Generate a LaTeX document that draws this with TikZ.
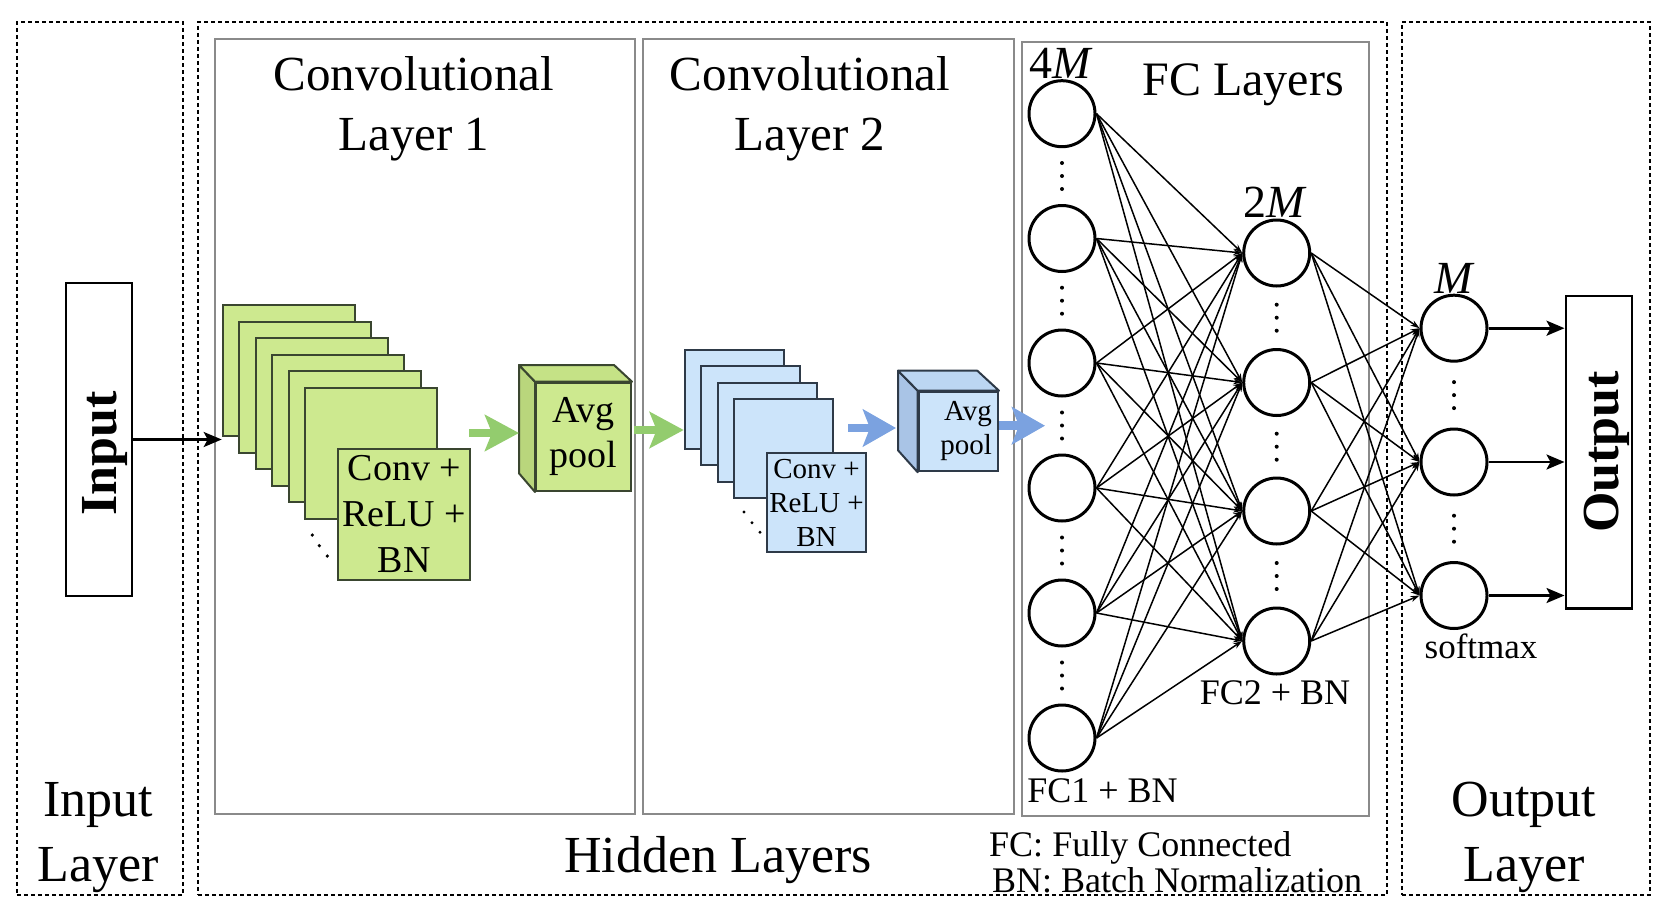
\documentclass[tikz,border=0pt]{standalone}
\usepackage{fontspec}
\setmainfont{Liberation Serif}
\usetikzlibrary{arrows.meta}
\definecolor{mapgreen}{HTML}{CDE98F}
\definecolor{sidegreen}{HTML}{B9D67C}
\definecolor{topgreen}{HTML}{C5E286}
\definecolor{edgegreen}{HTML}{3A4630}
\definecolor{arrgreen}{HTML}{93CC6E}
\definecolor{mapblue}{HTML}{CCE4FA}
\definecolor{sideblue}{HTML}{A9C4E6}
\definecolor{topblue}{HTML}{BCD6F2}
\definecolor{edgeblue}{HTML}{2E3A48}
\definecolor{arrblue}{HTML}{7BA2E0}
\definecolor{boxgray}{HTML}{8A8A8A}
\tikzset{
  layerbox/.style={draw, dash pattern=on 4pt off 3pt, line width=1.6pt, anchor=north west, inner sep=0pt},
  subbox/.style={draw=boxgray, line width=2pt, anchor=north west, inner sep=0pt},
  gmap/.style={draw=edgegreen, fill=mapgreen, line width=2pt, anchor=north west, inner sep=0pt, minimum width=132pt, minimum height=131pt},
  bmap/.style={draw=edgeblue, fill=mapblue, line width=2pt, anchor=north west, inner sep=0pt, minimum width=99pt, minimum height=99pt},
  neuron/.style={circle, draw, line width=3pt, minimum size=66pt, inner sep=0pt},
  fcline/.style={line width=1.5pt, -{Stealth[length=9pt,width=6pt]}},
  bigarrow/.style={line width=2.6pt, -{Stealth[length=18pt,width=15pt,inset=4pt]}},
  fatgreen/.style={draw=arrgreen, line width=8.5pt, -{Stealth[length=34pt,width=36pt,inset=7pt]}},
  fatblue/.style={draw=arrblue, line width=8.5pt, -{Stealth[length=33pt,width=37pt,inset=7pt]}},
  bigtxt/.style={font=\fontsize{52}{65}\selectfont, align=center},
  titletxt/.style={font=\fontsize{49}{60}\selectfont, align=center},
  dotmark/.style={fill=black},
}
\begin{document}
\begin{tikzpicture}[x=1pt,y=-1pt]
\useasboundingbox (0,0) rectangle (1677,907);
% outer layer boxes
\node[layerbox, minimum width=166pt, minimum height=873pt] (inL) at (16,21) {};
\node[layerbox, minimum width=1189pt, minimum height=873pt] (hidL) at (197,21) {};
\node[layerbox, minimum width=248pt, minimum height=873pt] (outL) at (1401,21) {};
\node[bigtxt] (inLt) at (98,838) {Input\\Layer};
\node[bigtxt] (hidLt) at (718,860) {Hidden Layers};
\node[bigtxt] (outLt) at (1524,837) {Output\\Layer};
% inner boxes
\node[subbox, minimum width=420pt, minimum height=774pt] (box1) at (214,38.5) {};
\node[subbox, minimum width=371pt, minimum height=774pt] (box2) at (642,38.5) {};
\node[subbox, minimum width=347pt, minimum height=774pt] (box3) at (1021,40.6) {};
\node[titletxt] (t1) at (414,109) {Convolutional\\Layer 1};
\node[titletxt] (t2) at (810,109) {Convolutional\\Layer 2};
% input
\node[draw, line width=2pt, minimum width=65.5pt, minimum height=313pt, inner sep=0pt] (inp) at (98.75,439.5) {};
\node[rotate=90, font=\bfseries\fontsize{52}{60}\selectfont] (inpt) at ([xshift=6pt,yshift=-14pt]inp.center) {Input};
% conv layer 1 maps
\node[gmap] (m1) at (221.7,304) {};
\node[gmap] (m2) at (238.3,320.7) {};
\node[gmap] (m3) at (255,336.7) {};
\node[gmap] (m4) at (271.3,353.7) {};
\node[gmap] (m5) at (287.7,369.7) {};
\node[gmap] (m6) at (304.3,386.7) {};
\node[gmap, align=center, font=\fontsize{38}{46}\selectfont] (c1t) at (337.3,447.7) {Conv +\\ReLU +\\BN};
\fill[dotmark] (312.3,535) circle[radius=1.8pt] (319.3,545.7) circle[radius=1.8pt] (327.3,556) circle[radius=1.8pt];
\draw[bigarrow] (inp.east) -- (inp.east -| m1.west);
% avg pool 1 cube
\node[draw=edgegreen, fill=mapgreen, line width=2pt, anchor=north west, inner sep=0pt, minimum width=95pt, minimum height=108.3pt, align=center, font=\fontsize{38}{45}\selectfont] (pool1) at (535,381.7) {Avg\\pool};
\filldraw[fill=sidegreen, draw=edgegreen, line width=2pt, line join=round] (pool1.north west) -- ++(-16,-16.7) -- ++(0,108.3) -- (pool1.south west) -- cycle;
\filldraw[fill=topgreen, draw=edgegreen, line width=2pt, line join=round] (pool1.north west) -- ++(-16,-16.7) -- ++(95,0) -- (pool1.north east) -- cycle;
\coordinate (g1s) at (469.3,433);
\coordinate (g1e) at (519,433);
\draw[fatgreen] (g1s) -- (g1e);
\coordinate (g2s) at (634,430);
% conv layer 2 maps
\node[bmap] (n1) at (683.7,348.7) {};
\node[bmap] (n2) at (699.7,364.7) {};
\node[bmap] (n3) at (716.7,381.7) {};
\node[bmap] (n4) at (733,397.7) {};
\node[bmap, minimum width=99.6pt, minimum height=98.7pt, align=center, font=\fontsize{29}{34}\selectfont] (c2t) at (765.7,452.3) {Conv +\\ReLU +\\BN};
\fill[dotmark] (744,512) circle[radius=1.6pt] (752,522.7) circle[radius=1.6pt] (760,532.3) circle[radius=1.6pt];
\draw[fatgreen] (g2s) -- (g2s -| n1.west);
% avg pool 2 cube
\node[draw=edgeblue, fill=mapblue, line width=2pt, anchor=north west, inner sep=0pt, minimum width=79.3pt, minimum height=79.6pt] (pool2) at (917.7,390.7) {};
\filldraw[fill=sideblue, draw=edgeblue, line width=2pt, line join=round] (pool2.north west) -- ++(-19.7,-20) -- ++(0,79.6) -- (pool2.south west) -- cycle;
\filldraw[fill=topblue, draw=edgeblue, line width=2pt, line join=round] (pool2.north west) -- ++(-19.7,-20) -- ++(79.3,0) -- (pool2.north east) -- cycle;
\node[anchor=east, align=right, font=\fontsize{29}{34}\selectfont, inner sep=0pt] (pool2t) at ([xshift=-7pt]pool2.east) {Avg\\pool};
\coordinate (b1s) at (848,428);
\coordinate (b1e) at (896,428);
\draw[fatblue] (b1s) -- (b1e);
\coordinate (b2e) at (1045,425.7);
\draw[fatblue] (pool2.east |- b2e) -- (b2e);
% FC layers
\foreach \i/\y in {1/113.7,2/238.5,3/363,4/488,5/613,6/738}
  \node[neuron] (a\i) at (1062,\y) {};
\foreach \i/\y in {1/253,2/382.5,3/511,4/641}
  \node[neuron] (b\i) at (1276.7,\y) {};
\foreach \i/\y in {1/328.2,2/462,3/595.5}
  \node[neuron] (c\i) at (1454,\y) {};
% vertical dots
\foreach \y in {176,300.7,425.5,550.5,675.5}
  \fill[dotmark] (1062,\y-13) circle[radius=2pt] (1062,\y) circle[radius=2pt] (1062,\y+13) circle[radius=2pt];
\foreach \y in {317.7,446.7,576}
  \fill[dotmark] (1276.7,\y-13) circle[radius=2pt] (1276.7,\y) circle[radius=2pt] (1276.7,\y+13) circle[radius=2pt];
\foreach \y in {395.1,528.7}
  \fill[dotmark] (1454,\y-13) circle[radius=2pt] (1454,\y) circle[radius=2pt] (1454,\y+13) circle[radius=2pt];
\foreach \i in {1,...,6}
  \foreach \j in {1,...,4}
    \draw[fcline] (a\i.east) -- (b\j.west);
\foreach \i in {1,...,4}
  \foreach \j in {1,...,3}
    \draw[fcline] (b\i.east) -- (c\j.west);
% output
\node[draw, line width=2.4pt, minimum width=66pt, minimum height=312.6pt, inner sep=0pt] (out) at (1598.7,452) {};
\node[rotate=90, font=\bfseries\fontsize{52}{60}\selectfont] (outt) at ([xshift=8pt]out.center) {Output};
\foreach \i in {1,2,3}
  \draw[bigarrow] (c\i.east) -- (c\i.east -| out.west);
% labels
\node[font=\fontsize{46}{50}\selectfont] (l4m) at (1061,63) {4\textit{M}};
\node[font=\fontsize{46}{50}\selectfont] (l2m) at (1275,202) {2\textit{M}};
\node[font=\fontsize{46}{50}\selectfont] (l1m) at (1455,278) {\textit{M}};
\node[font=\fontsize{48}{52}\selectfont] (fcl) at (1243,85) {FC Layers};
\node[font=\fontsize{36}{40}\selectfont] (fc1) at (1102.5,791) {FC1 + BN};
\node[font=\fontsize{36}{40}\selectfont] (fc2) at (1275,693) {FC2 + BN};
\node[font=\fontsize{35}{40}\selectfont] (smx) at (1481,646) {softmax};
\node[font=\fontsize{36}{40}\selectfont, anchor=west, inner sep=0pt] (leg1) at (989,848) {FC: Fully Connected};
\node[font=\fontsize{36}{40}\selectfont, anchor=west, inner sep=0pt] (leg2) at (992,880) {BN: Batch Normalization};
\end{tikzpicture}
\end{document}
